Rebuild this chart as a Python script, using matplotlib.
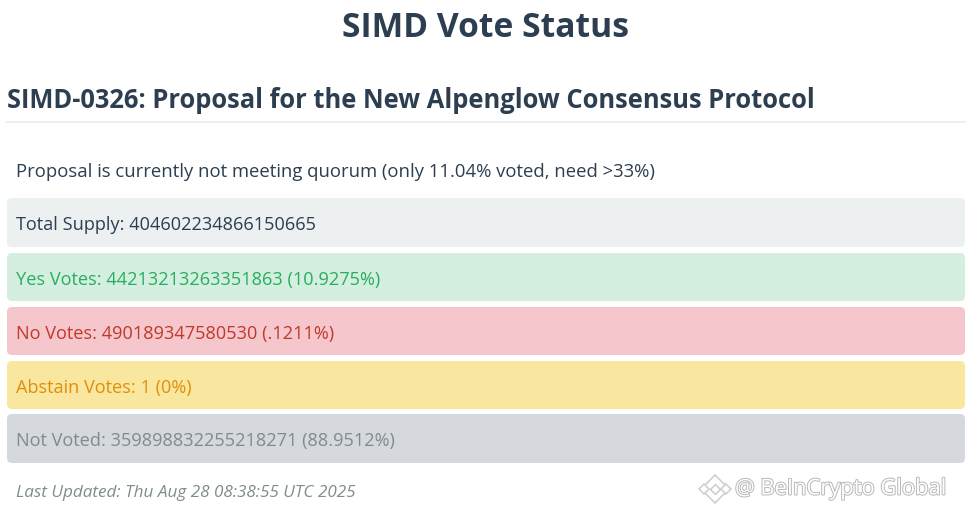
import matplotlib
matplotlib.use('Agg')

import matplotlib.pyplot as plt
import matplotlib.patheffects as pe
from matplotlib.patches import FancyBboxPatch

title = "SIMD Vote Status"
subtitle = "SIMD-0326: Proposal for the New Alpenglow Consensus Protocol"
quorum_note = "Proposal is currently not meeting quorum (only 11.04% voted, need >33%)"
updated = "Last Updated: Thu Aug 28 08:38:55 UTC 2025"
watermark = "@ BeInCrypto Global"

row_labels = ["Total Supply", "Yes Votes", "No Votes", "Abstain Votes", "Not Voted"]
row_values = ["404602234866150665", "44213213263351863", "490189347580530", "1", "359898832255218271"]
row_shares = ["", "10.9275%", ".1211%", "0%", "88.9512%"]
row_bg = ["#ecf0f1", "#d4efdf", "#f5c6cb", "#f9e79f", "#d5d8dc"]
row_fg = ["#2c3e50", "#27ae60", "#c0392b", "#e08e0b", "#7f8c8d"]
row_top = [198, 253, 307, 361, 414]
row_bottom = [247, 301, 355, 409, 463]

plt.rcParams['font.family'] = ['Open Sans', 'DejaVu Sans']

fig = plt.figure(figsize=(9.75, 5.16), dpi=100)
ax = fig.add_axes([0, 0, 1, 1])
ax.set_xlim(0, 975)
ax.set_ylim(516, 0)
ax.axis('off')

ax.text(486, 28, title, ha='center', va='center', fontsize=24.2, fontweight='bold', color='#2c3e50')
ax.text(7, 101, subtitle, ha='left', va='center', fontsize=18.4, fontweight='bold', color='#2c3e50')
ax.plot([7, 965], [122, 122], color='#ecf0f1', lw=1.5)
ax.text(16, 172, quorum_note, ha='left', va='center', fontsize=13.3, color='#2c3e50')

for i in range(len(row_labels)):
    top = row_top[i]
    bottom = row_bottom[i]
    ax.add_patch(FancyBboxPatch((7 + 5, top + 5), 958 - 10, bottom - top - 10,
                                boxstyle="round,pad=5,rounding_size=5",
                                facecolor=row_bg[i], edgecolor='none'))
    label = row_labels[i] + ": " + row_values[i]
    if row_shares[i]:
        label += " (" + row_shares[i] + ")"
    ax.text(16, (top + bottom) / 2 + 2.5, label, ha='left', va='center', fontsize=13.1, color=row_fg[i])

ax.text(16, 493, updated, ha='left', va='center', fontsize=12.3, style='italic', color='#7f8c8d')

# watermark: diamond logo and outlined text
for dx, dy, size in [(0, 0, 14), (-11, 0, 5), (11, 0, 5)]:
    ax.plot(715 + dx, 489 + dy, marker='D', ms=size, mfc='white', mec='#d0d0d0', mew=1.2)
ax.plot(715, 489, marker='D', ms=5, mfc='white', mec='#c8c8c8', mew=1)
ax.text(735, 489, watermark, ha='left', va='center', fontsize=15.8, color='white',
        path_effects=[pe.withStroke(linewidth=1.4, foreground='#b8b8b8')])

fig.savefig('out.png', dpi=100)
plt.close()
